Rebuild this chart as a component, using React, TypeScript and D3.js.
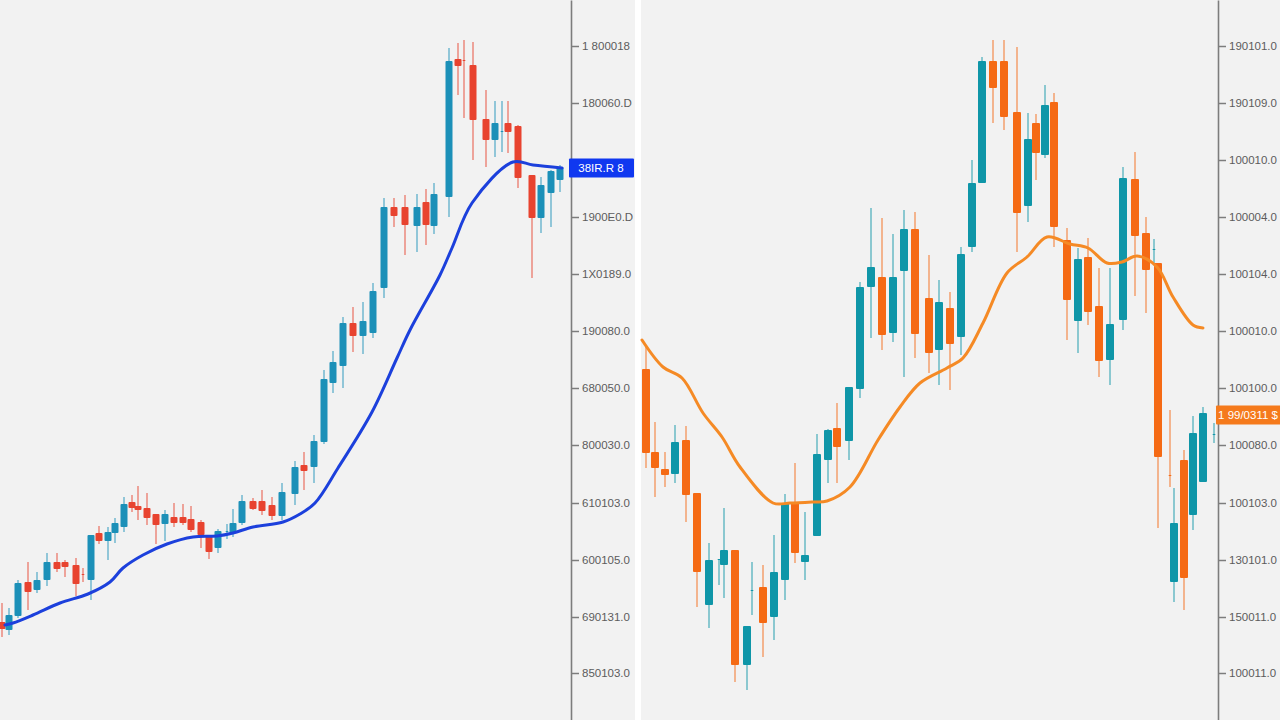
import * as d3 from 'd3';
import { useEffect, useRef } from 'react';

// left chart
const leftTime = [2, 9, 18, 28, 37, 47, 57, 65, 76, 83, 91, 99, 108, 115, 124, 132, 138, 147, 156, 165, 174, 183, 191, 201, 209, 218, 227, 233, 242, 253, 262, 272, 282, 295, 304, 314, 324, 333, 343, 353, 363, 373, 384, 394, 405, 417, 426, 434, 449, 458, 464, 473, 486, 495, 502, 508, 518, 532, 541, 551, 560];
const leftOpen = [98, 90, 104, 138, 130, 140, 158, 158, 155, 146, 140, 187, 179, 187, 193, 218, 214, 212, 206, 196, 203, 203, 201, 198, 185, 172, 188, 187, 197, 219, 219, 215, 204, 226, 255, 253, 278, 337, 354, 397, 384, 387, 432, 513, 513, 494, 518, 494, 523, 661, 660, 655, 601, 580, 588, 597, 594, 545, 502, 527, 540];
const leftClose = [91, 105, 137, 128, 140, 158, 151, 153, 136, 145, 185, 179, 188, 197, 216, 212, 210, 202, 195, 206, 197, 197, 190, 185, 168, 189, 189, 197, 219, 211, 209, 204, 228, 253, 249, 279, 341, 358, 397, 384, 399, 429, 513, 504, 495, 513, 495, 526, 659, 654, 659, 600, 580, 597, 589, 588, 542, 502, 535, 549, 553];
const leftHigh = [117, 112, 140, 158, 148, 167, 167, 160, 162, 152, 185, 194, 193, 202, 223, 225, 234, 227, 206, 210, 217, 216, 214, 200, 185, 191, 196, 211, 225, 222, 230, 223, 237, 259, 268, 285, 350, 369, 403, 413, 418, 437, 522, 522, 525, 526, 531, 537, 672, 677, 680, 678, 630, 619, 619, 619, 595, 545, 543, 550, 555];
const leftLow = [83, 85, 102, 110, 127, 134, 148, 143, 124, 138, 120, 176, 160, 177, 188, 208, 200, 195, 176, 179, 193, 195, 188, 172, 161, 167, 181, 183, 195, 210, 205, 200, 200, 215, 230, 237, 276, 327, 332, 368, 366, 382, 422, 493, 465, 468, 475, 486, 503, 625, 602, 560, 553, 563, 568, 567, 532, 442, 487, 493, 528];

const leftAvgTime = [5, 13, 33, 60, 88, 110, 123, 143, 167, 193, 217, 233, 253, 283, 300, 315, 338, 372, 397, 410, 440, 452, 472, 513, 533, 562];
const leftAvg = [95, 97, 105, 117, 126, 138, 152, 165, 176, 183, 184, 187, 193, 198, 206, 217, 252, 308, 362, 390, 445, 472, 517, 558, 555, 552];

// the tick under the price box is left out, the box hides it in the picture
const leftTickValues = [674, 617, 503, 446, 389, 332, 275, 217, 160, 103, 47];
const leftTickLabels = ['1 800018', '180060.D', '1900E0.D', '1X0189.0', '190080.0', '680050.0', '800030.0', '610103.0', '600105.0', '690131.0', '850103.0'];
const leftLastPrice = 552;
const leftLastLabel = '38IR.R 8';

// right chart
const rightTime = [646, 655, 665, 675, 686, 697, 709, 719, 724, 735, 747, 752, 763, 774, 785, 795, 805, 817, 828, 837, 849, 860, 871, 882, 893, 904, 915, 929, 939, 950, 961, 972, 982, 993, 1004, 1017, 1028, 1036, 1045, 1054, 1067, 1078, 1088, 1099, 1110, 1123, 1135, 1146, 1154, 1158, 1170, 1174, 1184, 1193, 1203, 1214];
const rightOpen = [351, 268, 251, 246, 280, 227, 115, 160, 155, 170, 55, 129, 133, 103, 140, 217, 158, 184, 260, 292, 279, 331, 433, 443, 387, 449, 491, 422, 370, 412, 383, 473, 537, 659, 659, 608, 514, 597, 565, 618, 480, 399, 463, 414, 360, 400, 541, 487, 470, 457, 245, 138, 260, 205, 238, 285];
const rightClose = [267, 252, 245, 278, 225, 148, 160, 161, 170, 55, 94, 130, 97, 148, 217, 167, 165, 266, 290, 273, 333, 433, 453, 385, 443, 491, 386, 367, 418, 376, 466, 537, 659, 632, 603, 507, 581, 567, 615, 493, 420, 461, 408, 359, 396, 542, 484, 450, 471, 263, 244, 197, 142, 287, 307, 286];
const rightHigh = [373, 298, 268, 295, 294, 227, 177, 161, 212, 170, 94, 158, 155, 185, 226, 257, 208, 286, 291, 317, 333, 438, 512, 502, 486, 510, 508, 465, 440, 428, 473, 560, 663, 680, 680, 673, 607, 606, 635, 627, 492, 472, 482, 452, 452, 553, 568, 503, 481, 457, 310, 232, 270, 304, 313, 297];
const rightLow = [252, 223, 233, 237, 198, 113, 92, 135, 122, 38, 30, 105, 63, 80, 120, 157, 140, 184, 237, 237, 260, 322, 382, 370, 378, 343, 362, 347, 335, 330, 365, 468, 537, 597, 590, 468, 498, 540, 562, 473, 380, 367, 395, 343, 335, 390, 424, 407, 457, 192, 233, 118, 110, 190, 238, 277];

const rightAvgTime = [642, 663, 682, 703, 722, 740, 773, 790, 812, 827, 850, 878, 900, 920, 947, 963, 983, 1007, 1027, 1047, 1070, 1088, 1107, 1122, 1137, 1157, 1173, 1193, 1203];
const rightAvg = [380, 353, 342, 307, 283, 253, 217, 217, 218, 219, 233, 280, 313, 337, 352, 362, 397, 447, 463, 483, 476, 472, 457, 458, 464, 453, 423, 395, 392];

const rightTickValues = [674, 617, 560, 503, 446, 389, 332, 275, 217, 160, 103, 47];
const rightTickLabels = ['190101.0', '190109.0', '100010.0', '100004.0', '100104.0', '100010.0', '100100.0', '100080.0', '100103.0', '130101.0', '150011.0', '100011.0'];
const rightLastPrice = 305;
const rightLastLabel = '1 99/0311 $';

const width = 1280;
const height = 720;

const yScale = d3.scaleLinear().domain([0, 720]).range([720, 0]);

interface PaneProps {
    time: number[];
    open: number[];
    close: number[];
    high: number[];
    low: number[];
    avgTime: number[];
    avg: number[];
    tickValues: number[];
    tickLabels: string[];
    lastPrice: number;
    lastLabel: string;
    left: number;
    axisX: number;
    right: number;
    bodyWidth: number;
    upColor: string;
    downColor: string;
    lineColor: string;
    boxColor: string;
}

function Pane(props: PaneProps) {
    const { time, open, close, high, low, avgTime, avg, tickValues, tickLabels, lastPrice, lastLabel, left, axisX, right, bodyWidth, upColor, downColor, lineColor, boxColor } = props;
    const axisRef = useRef<SVGGElement>(null);

    const xScale = d3.scaleLinear().domain([left, right]).range([left, right]);

    const line = d3
        .line<number>()
        .x((_, i) => xScale(avgTime[i]))
        .y((d) => yScale(d))
        .curve(d3.curveCatmullRom.alpha(0.5));

    useEffect(() => {
        const g = d3.select(axisRef.current);
        g.selectAll('*').remove();
        g.call(
            d3
                .axisRight(yScale)
                .tickValues(tickValues)
                .tickFormat((_, i) => tickLabels[i])
                .tickSizeInner(8)
                .tickSizeOuter(0)
                .tickPadding(3) as any,
        );
        g.select('.domain').attr('stroke', '#7d7d7d').attr('stroke-width', 1.6);
        g.selectAll('.tick line').attr('stroke', '#7d7d7d').attr('stroke-width', 1.5);
        g.selectAll('.tick text')
            .attr('fill', '#5c5c5c')
            .attr('font-family', 'Liberation Sans')
            .attr('font-size', 11.5);
    }, []);

    const boxY = yScale(lastPrice);

    return (
        <g>
            <g ref={axisRef} transform={`translate(${axisX}, 0)`} />
            {time.map((t, i) => {
                const up = close[i] >= open[i];
                const color = up ? upColor : downColor;
                const top = yScale(Math.max(open[i], close[i]));
                const bottom = yScale(Math.min(open[i], close[i]));
                // almost flat bars are only a thin stick in the picture
                const w = bottom - top <= 2 ? 3 : bodyWidth;
                return (
                    <g key={t}>
                        <line x1={xScale(t)} x2={xScale(t)} y1={yScale(high[i])} y2={yScale(low[i])} stroke={color} strokeWidth={1.5} opacity={0.6} />
                        <rect x={xScale(t) - w / 2} y={top} width={w} height={bottom - top} fill={color} rx={1} />
                    </g>
                );
            })}
            <path d={line(avg) ?? ''} fill="none" stroke={lineColor} strokeWidth={3} strokeLinejoin="round" strokeLinecap="round" />
            <rect x={axisX - 2} y={boxY - 9.5} width={65} height={19} fill={boxColor} rx={1} />
            <text x={axisX + 30} y={boxY + 4} textAnchor="middle" fill="#ffffff" fontFamily="Liberation Sans" fontSize={11.5}>
                {lastLabel}
            </text>
        </g>
    );
}

export default function App() {
    return (
        <svg width={width} height={height} viewBox={`0 0 ${width} ${height}`} style={{ position: 'absolute', left: 0, top: 0 }}>
            <rect x={0} y={0} width={width} height={height} fill="#f2f2f2" />
            <rect x={635} y={0} width={6} height={height} fill="#ffffff" />
            <Pane
                time={leftTime}
                open={leftOpen}
                close={leftClose}
                high={leftHigh}
                low={leftLow}
                avgTime={leftAvgTime}
                avg={leftAvg}
                tickValues={leftTickValues}
                tickLabels={leftTickLabels}
                lastPrice={leftLastPrice}
                lastLabel={leftLastLabel}
                left={0}
                axisX={571}
                right={635}
                bodyWidth={7}
                upColor="#1c90b8"
                downColor="#e8432f"
                lineColor="#1c40dc"
                boxColor="#1038f0"
            />
            <Pane
                time={rightTime}
                open={rightOpen}
                close={rightClose}
                high={rightHigh}
                low={rightLow}
                avgTime={rightAvgTime}
                avg={rightAvg}
                tickValues={rightTickValues}
                tickLabels={rightTickLabels}
                lastPrice={rightLastPrice}
                lastLabel={rightLastLabel}
                left={641}
                axisX={1218}
                right={1280}
                bodyWidth={8}
                upColor="#0f96a8"
                downColor="#f56a14"
                lineColor="#f58a25"
                boxColor="#f57a1c"
            />
        </svg>
    );
}
